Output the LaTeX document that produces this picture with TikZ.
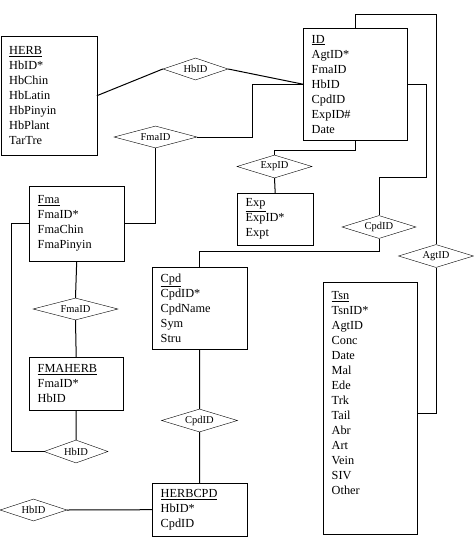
\documentclass[tikz,border=0pt]{standalone}
\usepackage{fontspec}
\setmainfont{Liberation Serif}
\usetikzlibrary{shapes.geometric}

\begin{document}
\begin{tikzpicture}[
    x=1pt, y=-1pt,
    entity/.style={
        draw,
        rectangle,
        anchor=north west,
        align=left,
        inner xsep=8.5pt,
        inner ysep=0pt,
        font=\fontsize{12.3}{15}\selectfont
    },
    rel/.style={
        draw,
        shape=diamond,
        aspect=3.3,
        inner sep=0pt,
        minimum width=74pt,
        minimum height=23pt,
        font=\fontsize{10.5}{12}\selectfont
    },
    link/.style={line width=1pt}
]
\useasboundingbox (0,0) rectangle (474,550);

% ===== Entities =====
\node[entity, text width=79pt, minimum height=119pt] (herb) at (0.5,36)
    {\underline{HERB}\\HbID*\\HbChin\\HbLatin\\HbPinyin\\HbPlant\\TarTre};
\node[entity, text width=87pt, minimum height=112pt] (id) at (303,28)
    {\underline{ID}\\AgtID*\\FmaID\\HbID\\CpdID\\ExpID\#\\Date};
\node[entity, text width=78pt, minimum height=75pt] (fma) at (29,186)
    {\underline{Fma}\\FmaID*\\FmaChin\\FmaPinyin};
\node[entity, text width=59pt, minimum height=52pt] (exp) at (237,193)
    {\underline{Exp}\\ExpID*\\Expt};
\node[entity, text width=78pt, minimum height=82pt] (cpd) at (152,267)
    {\underline{Cpd}\\CpdID*\\CpdName\\Sym\\Stru};
\node[entity, text width=77pt, minimum height=53pt] (fmaherb) at (29,357)
    {\underline{FMAHERB}\\FmaID*\\HbID};
\node[entity, text width=78pt, minimum height=53pt] (herbcpd) at (152,483)
    {\underline{HERBCPD}\\HbID*\\CpdID};
\node[entity, text width=77pt, minimum height=252pt] (tsn) at (323,282)
    {\underline{Tsn}\\TsnID*\\AgtID\\Conc\\Date\\Mal\\Ede\\Trk\\Tail\\Abr\\Art\\Vein\\SIV\\Other\\[15pt]\mbox{}};

% ===== Relations =====
\node[rel, minimum width=65pt, minimum height=22pt] (hbA)  at (195.5,69)  {HbID};
\node[rel, minimum width=83pt, minimum height=22pt] (fmaA) at (155.5,137) {FmaID};
\node[rel, minimum width=75pt] (expR) at (274.5,166.5) {ExpID};
\node[rel] (cpdA) at (379,227) {CpdID};
\node[rel, minimum width=75pt] (agtR) at (436,256) {AgtID};
\node[rel, minimum width=85pt, minimum height=22pt] (fmaB) at (75.5,309) {FmaID};
\node[rel, minimum width=64pt] (hbB)  at (76,451.5) {HbID};
\node[rel, minimum width=76pt] (cpdB) at (199.5,420.5) {CpdID};
\node[rel, minimum width=67pt, minimum height=22pt] (hbC)  at (33.5,510) {HbID};

% ===== Links round ID =====
\draw[link] (herb.east) -- (hbA.west);
\draw[link] (hbA.east) -- (id.west);
\draw[link] (fmaA.east) -- ++(55,0) |- (id.west);
\draw[link] (id.south) -- ++(0,10) -| (expR.north);
\draw[link] (expR.south) -- (exp.north);
\draw[link] (id.north) -- ++(0,-14) -| (agtR.north);
\draw[link] (agtR.south) |- ([yshift=-5pt]tsn.east);
\draw[link] (id.east) -- ++(19,0) -- ++(0,93) -| (cpdA.north);
\draw[link] (cpdA.south) -- ++(0,13) -| (cpd.north);

% ===== Links round Fma =====
\draw[link] (fmaA.south) |- (fma.east);
\draw[link] (fma.west) -- ++(-18,0) |- (hbB.west);
\draw[link] (fma.south) -- (fmaB.north);
\draw[link] (fmaB.south) -- (fmaherb.north);
\draw[link] (fmaherb.south) -- (hbB.north);

% ===== Links round Cpd =====
\draw[link] (cpd.south) -- (cpdB.north);
\draw[link] (cpdB.south) -- (herbcpd.north);
\draw[link] (hbC.east) -- (herbcpd.west);

\end{tikzpicture}
\end{document}
